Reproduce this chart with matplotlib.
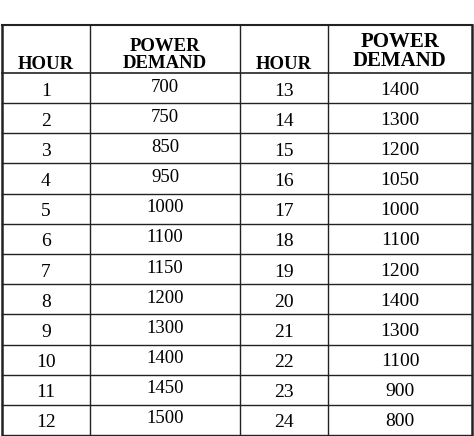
import matplotlib
matplotlib.use("Agg")
import matplotlib.pyplot as plt

hours_left = list(range(1, 13))
demand_left = [700, 750, 850, 950, 1000, 1100, 1150, 1200, 1300, 1400, 1450, 1500]
hours_right = list(range(13, 25))
demand_right = [1400, 1300, 1200, 1050, 1000, 1100, 1200, 1400, 1300, 1100, 900, 800]
headers = ["HOUR", "POWER\nDEMAND", "HOUR", "POWER\nDEMAND"]

W, H = 474, 436
fig = plt.figure(figsize=(W / 100, H / 100), dpi=100)
ax = fig.add_axes([0, 0, 1, 1])
ax.set_xlim(0, W)
ax.set_ylim(H, 0)
ax.axis("off")

xs = [2, 90, 240, 328, 472]
top, head_bot, bottom = 25, 73, 435
n = len(hours_left)
rh = (bottom - head_bot) / n
lc = "#222222"
for x in xs:
    ax.plot([x, x], [top, bottom], color=lc, lw=1.8 if x in (2, 472) else 1.0)
ax.plot([xs[0], xs[-1]], [top, top], color=lc, lw=1.5)
ax.plot([xs[0], xs[-1]], [head_bot, head_bot], color=lc, lw=1.2)
for i in range(1, n + 1):
    y = head_bot + i * rh
    ax.plot([xs[0], xs[-1]], [y, y], color=lc, lw=1.0)

font = dict(family="Liberation Serif", color="black")
centers = [(xs[i] + xs[i + 1]) / 2 for i in range(4)]
ax.text(centers[0], 69, headers[0], ha="center", va="baseline", fontsize=13.5, fontweight="bold", **font)
ax.text(centers[1], 68, headers[1], ha="center", va="baseline", fontsize=13.5, fontweight="bold", linespacing=1.0, **font)
ax.text(centers[2], 69, headers[2], ha="center", va="baseline", fontsize=13.5, fontweight="bold", **font)
ax.text(centers[3], 66, headers[3], ha="center", va="baseline", fontsize=15, fontweight="bold", linespacing=0.95, **font)

for i in range(n):
    yc = head_bot + (i + 0.5) * rh
    ax.text(centers[0], yc + 3, str(hours_left[i]), ha="center", va="center", fontsize=14, **font)
    ax.text(centers[1], yc - 1, str(demand_left[i]), ha="center", va="center", fontsize=13.5, **font)
    ax.text(centers[2], yc + 3, str(hours_right[i]), ha="center", va="center", fontsize=14, **font)
    ax.text(centers[3], yc + 2, str(demand_right[i]), ha="center", va="center", fontsize=14, **font)

fig.savefig("out.png", dpi=100)
